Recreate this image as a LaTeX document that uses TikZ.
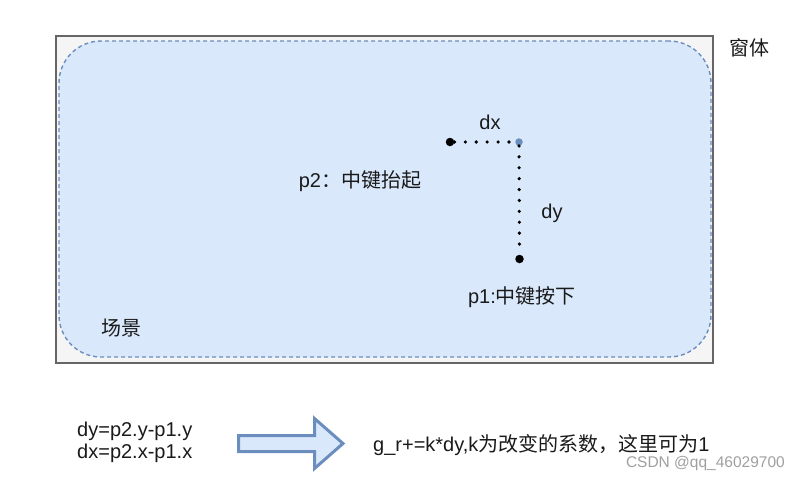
\documentclass[tikz,border=0pt]{standalone}
\usepackage{fontspec}
\setmainfont{Liberation Sans}
\newfontfamily\cjk{Noto Sans CJK SC}
\definecolor{winfill}{HTML}{F5F5F5}
\definecolor{winline}{HTML}{666666}
\definecolor{bluefill}{HTML}{DAE8FC}
\definecolor{blueline}{HTML}{6C8EBF}
\definecolor{wmgray}{HTML}{A0A0A0}
\definecolor{txt}{HTML}{1A1A1A}
\begin{document}
\begin{tikzpicture}[x=1pt,y=-1pt,
  lbl/.style={inner sep=0pt, text=txt, font=\fontsize{20}{22}\selectfont},
  dotnode/.style={circle, fill=black, inner sep=0pt, minimum size=8.5pt},
  dotline/.style={line width=3.6pt, line cap=round, dash pattern=on 0pt off 10.9pt}]
\useasboundingbox (0,0) rectangle (801,482);
\fill[white] (0,0) rectangle (801,482);
% window
\node[draw=winline, fill=winfill, line width=1.6pt, inner sep=0pt, outer sep=0pt,
      minimum width=657pt, minimum height=327pt] (win) at (384.5,199.5) {};
% scene
\node[draw=blueline, fill=bluefill, line width=1.4pt, dash pattern=on 4pt off 3pt,
      rounded corners=42pt, inner sep=0pt, outer sep=0pt,
      minimum width=652pt, minimum height=316pt] (scene) at (385,199) {};
\node[lbl] (winlbl) at (749,48) {\cjk 窗体};
\node[lbl] (scenelbl) at (121,328) {\cjk 场景};
% points
\node[dotnode] (p2) at (450,142) {};
\node[circle, fill=blueline, inner sep=0pt, minimum size=7.5pt] (c) at (519,142) {};
\node[dotnode] (p1) at (519.5,259) {};
\draw[dotline] (p2) -- (c);
\draw[dotline] (c) -- (p1);
\node[lbl] (dx) at (490,122) {dx};
\node[lbl] (dy) at (552,213) {dy};
\node[lbl] (p2lbl) at (360,181) {p2{\cjk ：中键抬起}};
\node[lbl] (p1lbl) at (522,297) {p1:{\cjk 中键按下}};
% bottom
\node[lbl, anchor=west, align=left] (eq) at (77,442) {dy=p2.y-p1.y\\dx=p2.x-p1.x};
\draw[draw=blueline, fill=bluefill, line width=3pt, line join=miter]
  (238.5,435.5) -- (314.5,435.5) -- (314.5,418.5) -- (343,443.5) -- (314.5,468.5)
  -- (314.5,451.5) -- (238.5,451.5) -- cycle;
\node[lbl, anchor=west] (res) at (373,445) {g\_r+=k*dy,k{\cjk 为改变的系数，这里可为}1};
\node[inner sep=0pt, anchor=east, text=wmgray, font=\fontsize{15.5}{17}\selectfont] (wm) at (785,463) {CSDN @qq\_46029700};
\end{tikzpicture}
\end{document}
